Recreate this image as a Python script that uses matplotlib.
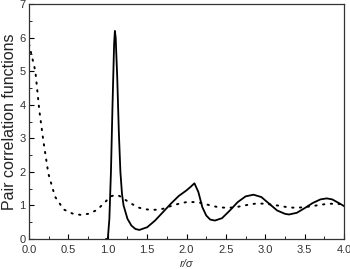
import matplotlib
matplotlib.use("Agg")
import matplotlib.pyplot as plt
from matplotlib.ticker import MultipleLocator

plt.rcParams['font.family'] = ['Liberation Sans', 'DejaVu Sans']

# solid curve (g(r), solid state)
r_solid = [0.98, 1.0, 1.02, 1.04, 1.06, 1.08, 1.09, 1.10, 1.12, 1.14, 1.16, 1.18, 1.2,
           1.25, 1.3, 1.35, 1.4, 1.5, 1.6, 1.7, 1.8, 1.9, 2.0, 2.05, 2.1, 2.15, 2.2,
           2.25, 2.3, 2.36, 2.45, 2.55, 2.65, 2.75, 2.85, 2.95, 3.05, 3.15, 3.25, 3.3,
           3.4, 3.5, 3.6, 3.7, 3.78, 3.85, 3.95, 4.0]
g_solid = [0.0, 0.0, 0.6, 2.0, 4.0, 5.8, 6.2, 6.0, 4.8, 3.2, 2.0, 1.35, 1.0,
           0.6, 0.4, 0.3, 0.27, 0.35, 0.55, 0.8, 1.05, 1.28, 1.45, 1.55, 1.66, 1.4, 0.95,
           0.7, 0.58, 0.55, 0.62, 0.85, 1.1, 1.27, 1.32, 1.25, 1.05, 0.85, 0.75, 0.73,
           0.78, 0.92, 1.07, 1.18, 1.21, 1.18, 1.05, 0.98]

# dotted curve
r_dot = [0.0, 0.04, 0.08, 0.13, 0.18, 0.245, 0.33, 0.44, 0.55, 0.65, 0.75, 0.86, 0.94,
         1.0, 1.05, 1.1, 1.15, 1.2, 1.3, 1.4, 1.5, 1.6, 1.7, 1.8, 1.9, 2.0, 2.1, 2.2,
         2.3, 2.4, 2.5, 2.6, 2.7, 2.8, 2.9, 3.0, 3.1, 3.2, 3.3, 3.4, 3.5, 3.6, 3.7,
         3.8, 3.9, 4.0]
g_dot = [5.8, 5.4, 5.0, 3.84, 2.95, 1.95, 1.26, 0.88, 0.76, 0.72, 0.75, 0.86, 1.04,
         1.18, 1.28, 1.31, 1.28, 1.2, 1.05, 0.93, 0.88, 0.87, 0.9, 0.98, 1.05, 1.1, 1.1, 1.07,
         1.0, 0.95, 0.93, 0.94, 0.98, 1.03, 1.06, 1.05, 1.02, 0.98, 0.94, 0.93, 0.95, 0.98, 1.02,
         1.05, 1.05, 1.03]

x_ticks = [0, 0.5, 1, 1.5, 2, 2.5, 3, 3.5, 4]
x_ticklabels = ['0.0', '0.5', '1.0', '1.5', '2.0', '2.5', '3.0', '3.5', '4.0']

fig = plt.figure(figsize=(3.5, 2.69), dpi=100)
ax = fig.add_axes([0.083, 0.1115, 0.9, 0.8735])

ax.plot(r_solid, g_solid, color='black', lw=1.3)
ax.plot(r_dot, g_dot, color='black', lw=1.4, linestyle=(0, (0.7, 3.3)), dash_capstyle='round')

ax.set_xlim(0, 4)
ax.set_ylim(0, 7)
ax.set_xticks(x_ticks)
ax.set_xticklabels(x_ticklabels)
ax.xaxis.set_minor_locator(MultipleLocator(0.25))
ax.yaxis.set_major_locator(MultipleLocator(1))
ax.yaxis.set_minor_locator(MultipleLocator(0.5))
ax.tick_params(which='major', direction='in', length=3.5, width=0.8, labelsize=8,
               labelcolor='#333333')
ax.tick_params(axis='x', pad=4.5)
ax.tick_params(axis='y', pad=2.5)
ax.tick_params(which='minor', direction='in', length=2, width=0.6)
for s in ax.spines.values():
    s.set_linewidth(0.9)
    s.set_color('#333333')

ax.set_ylabel('Pair correlation functions', fontsize=11.5, labelpad=2, color='#222222')
ax.set_xlabel('r/σ', fontsize=8, labelpad=3, style='italic', color='#333333')

fig.savefig('out.png', dpi=100)
